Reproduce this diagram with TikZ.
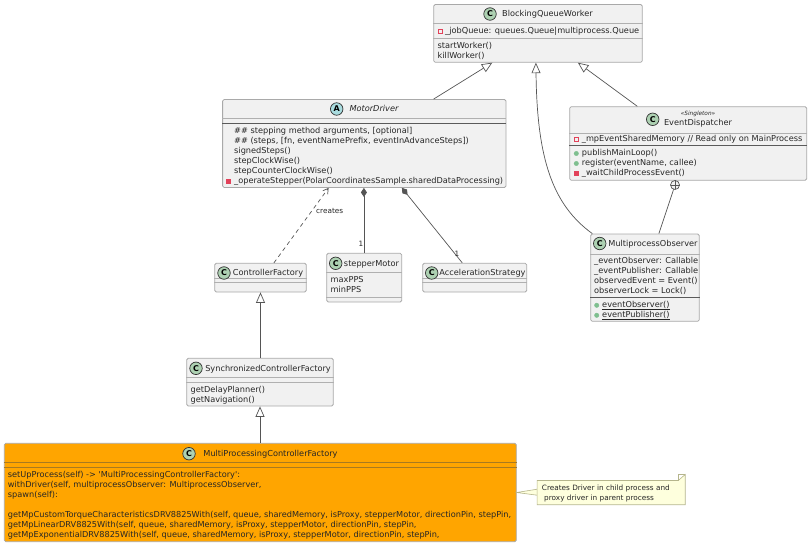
\documentclass[tikz,border=0pt]{standalone}
\usepackage{fontspec}
\usetikzlibrary{fit,arrows.meta,calc}
\newfontfamily\umlfont{DejaVu Sans}
\definecolor{boxfill}{HTML}{F1F1F1}
\definecolor{boxline}{HTML}{A9A9A9}
\definecolor{sepline}{HTML}{B0B0B0}
\definecolor{darksep}{HTML}{5A5A5A}
\definecolor{edgeline}{HTML}{555555}
\definecolor{orangefill}{HTML}{FFA500}
\definecolor{orangesep}{HTML}{A87A20}
\definecolor{notefill}{HTML}{FEFFDD}
\definecolor{noteline}{HTML}{B5B58C}
\definecolor{circC}{HTML}{ADD1B2}
\definecolor{circA}{HTML}{A9DCDF}
\definecolor{privred}{HTML}{E2425A}
\definecolor{pubgreen}{HTML}{7FBF8F}
\tikzset{
  x=1pt,y=-1pt,
  classbox/.style={draw=boxline,line width=.8pt,fill=boxfill,rounded corners=1.5pt,inner sep=0pt},
  orangebox/.style={classbox,fill=orangefill},
  sep/.style={draw=sepline,line width=.7pt},
  dsep/.style={draw=darksep,line width=.7pt},
  osep/.style={draw=orangesep,line width=.7pt},
  txt/.style={anchor=base west,inner sep=0pt,font=\umlfont\fontsize{8.2}{9}\selectfont,text=black!85},
  ttl/.style={txt,anchor=base},
  lbl/.style={txt,font=\umlfont\fontsize{7.3}{8}\selectfont},
  circ/.style={circle,draw=black!80,line width=.7pt,minimum size=12.5pt,inner sep=0pt,font=\umlfont\fontsize{8}{8}\bfseries\selectfont,text=black},
  cC/.style={circ,fill=circC},
  cA/.style={circ,fill=circA},
  edge/.style={draw=edgeline,line width=.7pt},
  inherit/.style={edge,-{Triangle[open,length=10.5pt,width=9pt,fill=white]}},
  priv/.style={rectangle,draw=privred,line width=.7pt,minimum size=3.8pt,inner sep=0pt},
  privf/.style={priv,fill=privred},
  pub/.style={circle,draw=pubgreen,fill=pubgreen,minimum size=4.4pt,inner sep=0pt},
}
\newcounter{tl}
\newcommand{\tline}[3]{\stepcounter{tl}\node[txt] (t\thetl) at (#1,#2+2.9) {#3};}
\newcommand{\nline}[3]{\stepcounter{tl}\node[lbl] (t\thetl) at (#1,#2+2.7) {#3};}
\begin{document}
\begin{tikzpicture}
\useasboundingbox (0,0) rectangle (810,545);
% BlockingQueueWorker
\node[classbox,fit={(433.7,4.5)(642.3,62.3)}] (bqw) {};
\draw[sep] (bqw.west |- 0,23.5) -- (bqw.east |- 0,23.5);
\draw[sep] (bqw.west |- 0,38.5) -- (bqw.east |- 0,38.5);
\node[cC] (bqwc) at (490,14) {C};
\node[ttl] (bqwt) at (547.5,16.9) {BlockingQueueWorker};
\node[priv] (bqwm) at (440,31.3) {};
\tline{445}{31}{\_jobQueue: queues.Queue|multiprocess.Queue}
\tline{437.5}{46}{startWorker()}
\tline{437.5}{55.5}{killWorker()}
% MotorDriver
\node[classbox,fit={(222.6,99.5)(506,187.5)}] (mot) {};
\draw[sep] (mot.west |- 0,118.3) -- (mot.east |- 0,118.3);
\draw[dsep] (mot.west |- 0,123.3) -- (mot.east |- 0,123.3);
\node[cA] (motc) at (336.7,109) {A};
\node[ttl,font=\umlfont\itshape\fontsize{8.2}{9}\selectfont] (mott) at (374,111.9) {MotorDriver};
\tline{234}{131}{\#\# stepping method arguments, [optional]}
\tline{234}{141}{\#\# (steps, [fn, eventNamePrefix, eventInAdvanceSteps])}
\tline{234}{151}{signedSteps()}
\tline{234}{161}{stepClockWise()}
\tline{234}{171}{stepCounterClockWise()}
\node[privf] (motm) at (228.6,181) {};
\tline{234}{181}{\_operateStepper(PolarCoordinatesSample.sharedDataProcessing)}
% EventDispatcher
\node[classbox,fit={(569.7,106.7)(806.7,180.3)}] (evt) {};
\draw[sep] (evt.west |- 0,133.7) -- (evt.east |- 0,133.7);
\draw[dsep] (evt.west |- 0,145.3) -- (evt.east |- 0,145.3);
\node[cC] (evtc) at (652.7,119.3) {C};
\node[ttl,font=\umlfont\itshape\fontsize{5.8}{6}\selectfont] (evts) at (698,116) {«Singleton»};
\node[ttl] (evtt) at (698,125.9) {EventDispatcher};
\node[priv] (evtm1) at (576.3,139.3) {};
\tline{581.7}{139}{\_mpEventSharedMemory // Read only on MainProcess}
\node[pub] (evtm2) at (576.3,153.5) {};
\tline{581.7}{153}{publishMainLoop()}
\node[pub] (evtm3) at (576.3,163.5) {};
\tline{581.7}{163}{register(eventName, callee)}
\node[privf] (evtm4) at (576.3,173.3) {};
\tline{581.7}{173}{\_waitChildProcessEvent()}
% MultiprocessObserver
\node[classbox,fit={(590.7,234)(699.3,321.3)}] (mpo) {};
\draw[sep] (mpo.west |- 0,254) -- (mpo.east |- 0,254);
\draw[dsep] (mpo.west |- 0,297.3) -- (mpo.east |- 0,297.3);
\node[cC] (mpoc) at (599.7,243.5) {C};
\node[ttl] (mpot) at (653,246.4) {MultiprocessObserver};
\tline{594}{261}{\_eventObserver: Callable}
\tline{594}{270.7}{\_eventPublisher: Callable}
\tline{594}{280.5}{observedEvent = Event()}
\tline{594}{290.2}{observerLock = Lock()}
\node[pub] (mpom1) at (596.7,305.3) {};
\tline{602}{305}{\underline{\smash{eventObserver()}}}
\node[pub] (mpom2) at (596.7,315.3) {};
\tline{602}{315}{\underline{\smash{eventPublisher()}}}
% ControllerFactory
\node[classbox,fit={(214.7,263.3)(306.3,292)}] (cf) {};
\draw[sep] (cf.west |- 0,278) -- (cf.east |- 0,278);
\draw[sep] (cf.west |- 0,282.7) -- (cf.east |- 0,282.7);
\node[cC] (cfc) at (224,273) {C};
\node[ttl] (cft) at (268,275.9) {ControllerFactory};
% stepperMotor
\node[classbox,fit={(326.7,253.3)(401.7,302)}] (sm) {};
\draw[sep] (sm.west |- 0,272.3) -- (sm.east |- 0,272.3);
\draw[sep] (sm.west |- 0,297.3) -- (sm.east |- 0,297.3);
\node[cC] (smc) at (335.7,263.3) {C};
\node[ttl] (smt) at (371.5,266.2) {stepperMotor};
\tline{330.5}{280}{maxPPS}
\tline{330.5}{290}{minPPS}
% AccelerationStrategy
\node[classbox,fit={(422.7,263.3)(526.7,292)}] (acc) {};
\draw[sep] (acc.west |- 0,278) -- (acc.east |- 0,278);
\draw[sep] (acc.west |- 0,282.7) -- (acc.east |- 0,282.7);
\node[cC] (accc) at (431.7,273) {C};
\node[ttl] (acct) at (482.5,275.9) {AccelerationStrategy};
% SynchronizedControllerFactory
\node[classbox,fit={(186.7,358.3)(333.3,406)}] (scf) {};
\draw[sep] (scf.west |- 0,377.3) -- (scf.east |- 0,377.3);
\draw[sep] (scf.west |- 0,382.3) -- (scf.east |- 0,382.3);
\node[cC] (scfc) at (196,368.3) {C};
\node[ttl] (scft) at (268,371.2) {SynchronizedControllerFactory};
\tline{190.5}{390}{getDelayPlanner()}
\tline{190.5}{400}{getNavigation()}
% MultiProcessingControllerFactory
\node[orangebox,fit={(4.3,443.3)(516.3,541.7)}] (mpf) {};
\draw[osep] (mpf.west |- 0,462.3) -- (mpf.east |- 0,462.3);
\draw[osep] (mpf.west |- 0,467.3) -- (mpf.east |- 0,467.3);
\node[cC] (mpfc) at (189,453.7) {C};
\node[ttl] (mpft) at (270.5,456.6) {MultiProcessingControllerFactory};
\tline{7.7}{475}{setUpProcess(self) -> 'MultiProcessingControllerFactory':}
\tline{7.7}{485}{withDriver(self, multiprocessObserver: MultiprocessObserver,}
\tline{7.7}{495}{spawn(self):}
\tline{7.7}{515}{getMpCustomTorqueCharacteristicsDRV8825With(self, queue, sharedMemory, isProxy, stepperMotor, directionPin, stepPin,}
\tline{7.7}{525}{getMpLinearDRV8825With(self, queue, sharedMemory, isProxy, stepperMotor, directionPin, stepPin,}
\tline{7.7}{535}{getMpExponentialDRV8825With(self, queue, sharedMemory, isProxy, stepperMotor, directionPin, stepPin,}
% Note
\node[inner sep=0pt,fit={(537.3,480.7)(685,504.5)}] (note) {};
\draw[draw=noteline,line width=.6pt,fill=notefill] (note.north west) -- ([xshift=-7pt]note.north east) -- ([yshift=6pt]note.north east) -- (note.south east) -- (note.south west) -- ([yshift=3.4pt]note.west) -- (mpf.east) -- ([yshift=-2.6pt]note.west) -- cycle;
\draw[draw=noteline,line width=.6pt] ([xshift=-7pt]note.north east) -- ([xshift=-7pt,yshift=6pt]note.north east) -- ([yshift=6pt]note.north east);
\nline{541.7}{488}{Creates Driver in child process and}
\nline{544}{497.5}{proxy driver in parent process}
% Edges
\draw[inherit] ([xshift=211.4pt]mot.north west) -- ([xshift=59pt]bqw.south west);
\draw[inherit] ([xshift=68pt]evt.north west) -- ([xshift=144.6pt]bqw.south west);
\draw[inherit] ([xshift=2pt]mpo.north west) .. controls (553,205) and (537,160) .. ([xshift=102.6pt]bqw.south west);
\draw[inherit] (cf.south |- scf.north) -- (cf.south);
\draw[inherit] (scf.south |- mpf.north) -- (scf.south);
\draw[edge,dash pattern=on 4pt off 3.5pt,-{Straight Barb[length=5pt,width=6pt]}] ([xshift=59.6pt]cf.north west) -- ([xshift=106.4pt]mot.south west);
\node[lbl] (lcreates) at (316,213.5) {creates};
\draw[edge,{Diamond[length=9pt,width=6pt]}-] ([xshift=141.7pt]mot.south west) -- ([xshift=37.6pt]sm.north west);
\node[lbl,anchor=base] (l1) at (361,247) {1};
\draw[edge,{Diamond[length=9pt,width=6pt]}-] ([xshift=179.7pt]mot.south west) -- ([xshift=40pt]acc.north west);
\node[lbl,anchor=base] (l2) at (457,256.7) {1};
\coordinate (plusc) at (675,185);
\draw[edge,fill=boxfill] (plusc) circle (4.5);
\draw[edge] ($(plusc)+(-4.5,0)$) -- ($(plusc)+(4.5,0)$) ($(plusc)+(0,-4.5)$) -- ($(plusc)+(0,4.5)$);
\draw[edge] ($(plusc)+(-1.4,4.3)$) -- ([xshift=68.6pt]mpo.north west);
\end{tikzpicture}
\end{document}
